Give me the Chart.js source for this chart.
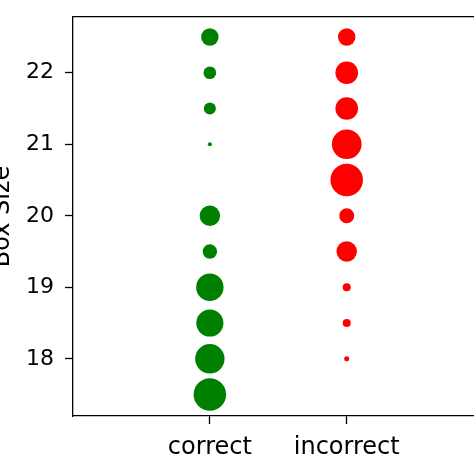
<!DOCTYPE html>
<html>
<head>
<meta charset="utf-8">
<script src="https://cdn.jsdelivr.net/npm/chart.js@4"></script>
<style>
    html, body { margin: 0; padding: 0; background: #fff; overflow: hidden; }
    #wrap { width: 474px; height: 474px; }
</style>
</head>
<body>
<div id="wrap"><canvas id="chart" width="474" height="474"></canvas></div>
<script>
// categories on the x axis
const categories = ['correct', 'incorrect'];

// box sizes and how many samples fall on each (marker area)
const correctBoxSize = [22.5, 22, 21.5, 21, 20, 19.5, 19, 18.5, 18, 17.5];
const correctCount   = [19, 10, 9, 1, 26, 13, 47, 46, 54, 66];

const incorrectBoxSize = [22.5, 22, 21.5, 21, 20.5, 20, 19.5, 19, 18.5, 18];
const incorrectCount   = [19, 32, 32, 55, 66, 14, 26, 4, 4, 1.6];

const yTicks = [18, 19, 20, 21, 22];

document.addEventListener("DOMContentLoaded", function() {

    Chart.defaults.color = '#000';
    Chart.defaults.font.family = '"DejaVu Sans", sans-serif';

    const toPoints = (xIndex, ys, counts) =>
        ys.map((y, i) => ({ x: xIndex, y: y, r: 2 * Math.sqrt(counts[i]) }));

    // keep the plot box where we put it, ignore label overhang
    const noPad = function(scale) {
        scale.paddingTop = 0;
        scale.paddingBottom = 0;
        scale.paddingLeft = 0;
        scale.paddingRight = 0;
    };

    // only draw tick marks for the ticks we asked for
    const tickColorFor = (wanted) => function(c) {
        return c.tick && wanted.includes(c.tick.value) ? '#000' : 'rgba(0,0,0,0)';
    };

    const ctx = document.getElementById("chart");

    new Chart(ctx, {
        type: 'bubble',
        data: {
            datasets: [{
                label: categories[0],
                data: toPoints(0, correctBoxSize, correctCount),
                backgroundColor: '#008000',
                borderColor: '#008000',
                borderWidth: 0,
                hoverBorderWidth: 0
            }, {
                label: categories[1],
                data: toPoints(1, incorrectBoxSize, incorrectCount),
                backgroundColor: '#ff0000',
                borderColor: '#ff0000',
                borderWidth: 0,
                hoverBorderWidth: 0
            }]
        },
        options: {
            responsive: false,
            animation: false,
            events: [],
            layout: { autoPadding: false, padding: { top: 17, left: 0, right: 0, bottom: 0 } },
            plugins: {
                legend: { display: false },
                tooltip: { enabled: false }
            },
            scales: {
                x: {
                    type: 'linear',
                    position: 'bottom',
                    min: -1,
                    max: 1.93,
                    afterFit: function(scale) { scale.height = 58; noPad(scale); },
                    afterBuildTicks: function(scale) {
                        scale.ticks = categories.map((c, i) => ({ value: i }));
                    },
                    grid: {
                        drawOnChartArea: false,
                        drawTicks: true,
                        tickLength: 8,
                        tickWidth: 1.3,
                        tickColor: tickColorFor(categories.map((c, i) => i))
                    },
                    border: { display: true, color: '#000', width: 1.3 },
                    ticks: {
                        padding: 9,
                        font: { size: 24 },
                        maxRotation: 0,
                        callback: function(value) { return categories[value]; }
                    }
                },
                x2: {
                    type: 'linear',
                    position: 'top',
                    min: -1,
                    max: 1.93,
                    afterFit: function(scale) { scale.height = 0; noPad(scale); },
                    grid: { display: false, drawTicks: false },
                    border: { display: true, color: '#000', width: 1.3 },
                    ticks: { display: false }
                },
                y: {
                    min: 17.2,
                    max: 22.78,
                    afterFit: function(scale) { scale.width = 73; noPad(scale); },
                    afterBuildTicks: function(scale) {
                        scale.ticks = yTicks.map(v => ({ value: v }));
                    },
                    grid: {
                        drawOnChartArea: false,
                        drawTicks: true,
                        tickLength: 8,
                        tickWidth: 1.3,
                        tickColor: tickColorFor(yTicks)
                    },
                    border: { display: true, color: '#000', width: 1.3 },
                    ticks: {
                        padding: 11,
                        font: { size: 22 }
                    },
                    title: {
                        display: true,
                        text: 'Box Size',
                        font: { size: 24 },
                        padding: { top: -12, bottom: 0 }
                    }
                }
            }
        }
    });
});
</script>
</body>
</html>
